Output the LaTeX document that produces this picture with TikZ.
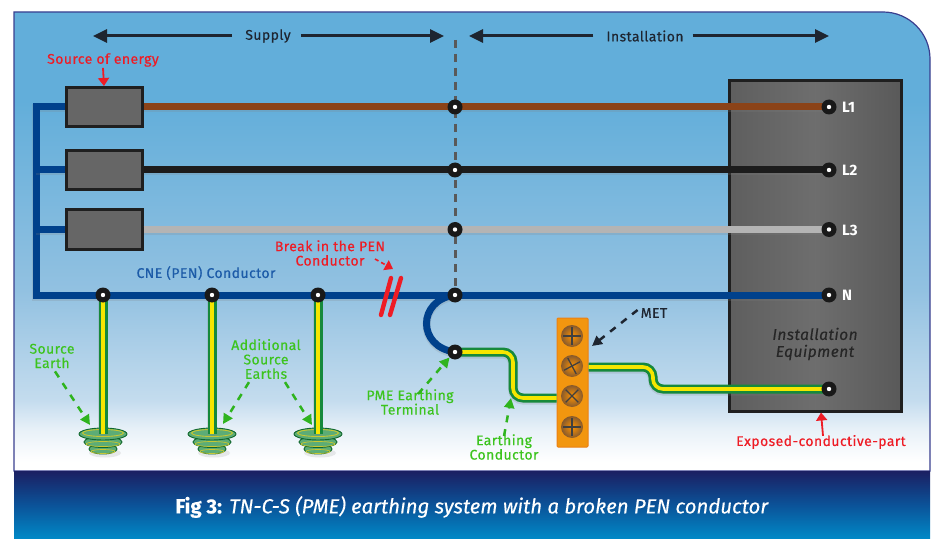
\documentclass[tikz,border=0pt]{standalone}
\usepackage{fontspec}
\setmainfont{Fira Sans}
\newfontfamily\lblfont[FakeBold=0.35,LetterSpace=3]{Fira Sans}
\newfontfamily\capfont[FakeBold=0.25]{Fira Sans}
\usetikzlibrary{arrows.meta,shapes.geometric,calc}
\definecolor{pA}{HTML}{62AEDA}\definecolor{pB}{HTML}{92C1E1}\definecolor{pC}{HTML}{C4DCEE}\definecolor{pD}{HTML}{E8F1F8}
\definecolor{wblue}{HTML}{00418C}\definecolor{wbrown}{HTML}{8B4318}\definecolor{wblack}{HTML}{1C1C1C}\definecolor{wgrey}{HTML}{B4B4B4}
\definecolor{egreen}{HTML}{16893C}\definecolor{eyellow}{HTML}{F6E600}\definecolor{lgreen}{HTML}{3CC41E}\definecolor{lred}{HTML}{EE1C25}
\definecolor{ink}{HTML}{1E2530}\definecolor{lblue}{HTML}{1C5BA8}\definecolor{frame}{HTML}{3A3F8F}\definecolor{orangeb}{HTML}{F2960F}
\definecolor{capA}{HTML}{1B1F62}\definecolor{capB}{HTML}{0B5298}\definecolor{capC}{HTML}{0088C6}
\definecolor{gdash}{HTML}{2FB41E}\definecolor{ering}{HTML}{C8C832}
\pgfdeclareverticalshading{panelgrad}{100bp}{color(0bp)=(white); color(26bp)=(white); color(29.5bp)=(pD); color(32.7bp)=(pC); color(44.7bp)=(pB); color(65.4bp)=(pA); color(100bp)=(pA)}
\pgfdeclarelayer{wires}\pgfdeclarelayer{dots}\pgfsetlayers{main,wires,dots}
\tikzset{
 x=1pt,y=-1pt,
 lbl/.style={inner sep=0pt,align=center,font=\lblfont\fontsize{14}{14.4}\selectfont},
 greenlbl/.style={lbl,text=lgreen},
 redlbl/.style={lbl,text=lred},
 darklbl/.style={lbl,text=ink},
 whitelbl/.style={lbl,text=white,font=\fontsize{15}{15}\selectfont\bfseries},
 srcbox/.style={draw=black!88,line width=3pt,fill=black!60,minimum width=76pt,minimum height=39pt,inner sep=0pt},
 joint/.style={circle,fill=black!90,minimum size=15pt,inner sep=0pt,path picture={\fill[white] (path picture bounding box.center) circle (2.2pt);}},
 shadowed/.style={preaction={draw=black!50,opacity=.2,line width=#1,transform canvas={yshift=-1.5pt}}},
 wire/.style={line width=7pt,shadowed=8pt},
 pen/.style={wire,draw=wblue},
 earthwire/.style={line width=3.6pt,draw=eyellow,preaction={draw=black!50,opacity=.2,line width=10pt,transform canvas={yshift=-1.5pt}},preaction={draw=egreen,line width=9pt}},
 bendy/.style={rounded corners=10pt},
 bigarrow/.style={draw=ink,line width=3pt,-{Triangle[length=14pt,width=13pt]}},
 redarrow/.style={draw=lred,line width=1.8pt,-{Triangle[length=8pt,width=11pt]}},
 dasharrow/.style={line width=2.5pt,dash pattern=on 7pt off 7pt,-{Triangle[length=10pt,width=10pt]}},
 greendash/.style={dasharrow,draw=gdash},
 earthdisc/.style={ellipse,draw=egreen!75!black,line width=.9pt,fill=egreen!70,inner sep=0pt},
 screw/.style={circle,minimum size=22pt,inner sep=0pt,inner color=orange!85!yellow,outer color=brown!70!black},
}
\begin{document}
\begin{tikzpicture}
\useasboundingbox (0,0) rectangle (941,553);
\fill[white] (0,0) rectangle (941,553);
% panel and caption band
\path[shading=panelgrad,draw=frame,line width=1.2pt] (14,471) -- (14,12) [rounded corners=47pt] -- (930,12) [sharp corners] -- (930,471) -- cycle;
\shade[top color=capA,bottom color=capC,middle color=capB] (14,471) rectangle (930,538);
\node[font=\capfont\fontsize{20.4}{22}\selectfont,text=white,inner sep=0pt] (cap) at (472,507) {\textbf{Fig 3:} \textit{TN-C-S (PME) earthing system with a broken PEN conductor}};
% boxes
\node[srcbox] (s1) at (104,107) {};
\node[srcbox] (s2) at (104,170) {};
\node[srcbox] (s3) at (104,229.5) {};
\node[draw=black!88,line width=3pt,left color=black!63,right color=black!65,middle color=black!57,minimum width=172pt,minimum height=330pt,inner sep=0pt] (eq) at (815,246) {};
% earth electrodes
\foreach \n/\x in {a/103,b/212,c/318}{
 \fill[black!40,opacity=.2] (\x+2,453) ellipse (16 and 4.5);
 \node[earthdisc,minimum width=28pt,minimum height=10pt] (\n3) at (\x,449) {};
 \draw[ering,line width=.7pt] (\x,451.5) ellipse (12 and 2);
 \node[earthdisc,minimum width=38pt,minimum height=11pt] (\n2) at (\x,442) {};
 \draw[ering,line width=.7pt] (\x,444) ellipse (17 and 2.5);
 \node[earthdisc,minimum width=48pt,minimum height=12pt] (\n1) at (\x,434) {};
 \draw[ering,line width=.9pt] (\x,433) ellipse (20.5 and 3.5);
}
% MET bar
\node[draw=orange!70!brown,line width=1pt,fill=orangeb,rounded corners=1pt,minimum width=31pt,minimum height=129pt,inner sep=0pt] (met) at (572.5,382.5) {};
\foreach \n/\y/\a in {m1/336/0,m2/366/28,m3/396/45,m4/427/0}{
 \node[screw] (\n) at (572,\y) {};
 \begin{scope}[shift={(572,\y)},rotate=\a]
  \draw[black!75,line width=1.3pt] (-9,0) -- (9,0) (0,-9) -- (0,9);
 \end{scope}
}
% joints
\begin{pgfonlayer}{dots}
\node[joint] (ja) at (103,295) {};
\node[joint] (jb) at (212,295) {};
\node[joint] (jc) at (318,295) {};
\node[joint] (d1) at (455,107) {};
\node[joint] (d2) at (455,170) {};
\node[joint] (d3) at (455,229.5) {};
\node[joint] (d4) at (455,295) {};
\node[joint] (d5) at (455,352) {};
\node[joint] (t1) at (829,107) {};
\node[joint] (t2) at (829,170) {};
\node[joint] (t3) at (829,229.5) {};
\node[joint] (t4) at (829,295) {};
\node[joint] (t5) at (829,389) {};
\end{pgfonlayer}
\coordinate (cnr) at (36,295);
\coordinate (top) at (36,107);
\coordinate (dtop) at (455,40);
\coordinate (e1) at (513,352);
\coordinate (e2) at (513,398);
\coordinate (f1) at (653,367);
\coordinate (f2) at (653,389);
% wires
\begin{pgfonlayer}{wires}
\draw[draw=black!65,line width=3pt,dash pattern=on 8pt off 6pt] (dtop) -- (d4.center);
\draw[wire,draw=wbrown] (s1.east) -- (d1.center) -- (t1.center);
\draw[wire,draw=wblack] (s2.east) -- (d2.center) -- (t2.center);
\draw[wire,draw=wgrey] (s3.east) -- (d3.center) -- (t3.center);
\draw[pen] (s1.west) -- (top) -- (cnr) -- (t4.center);
\draw[pen] (top|-s2.west) -- (s2.west);
\draw[pen] (top|-s3.west) -- (s3.west);
\draw[pen] (d4.center) .. controls (417,300) and (417,347) .. (d5.center);
\draw[earthwire] (ja.center) -- (a1.center);
\draw[earthwire] (jb.center) -- (b1.center);
\draw[earthwire] (jc.center) -- (c1.center);
\draw[earthwire,bendy] (d5.center) -- (e1) -- (e2) -- (met.west|-e2);
\draw[earthwire,bendy] (met.east|-f1) -- (f1) -- (f2) -- (t5.center);
\draw[draw=lred,line width=4.4pt,line cap=round] (381,315) -- (391,278);
\draw[draw=lred,line width=4.4pt,line cap=round] (390,315) -- (401,278);
\end{pgfonlayer}
% labels
\node[darklbl] (sup) at (268,36) {Supply};
\node[darklbl] (ins) at (645,36) {Installation};
\coordinate (supL) at (93,36);\coordinate (supR) at (444,36);\coordinate (insL) at (469,36);\coordinate (insR) at (829,36);
\draw[bigarrow] ([xshift=-13pt]sup.west) -- (supL);
\draw[bigarrow] ([xshift=10pt]sup.east) -- (supR);
\draw[bigarrow] ([xshift=-13pt]ins.west) -- (insL);
\draw[bigarrow] ([xshift=9pt]ins.east) -- (insR);
\node[redlbl] (soe) at (103,60) {Source of energy};
\draw[redarrow] ([yshift=-1pt]soe.south) -- (s1.north);
\node[redlbl] (brk) at (330,253) {Break in the PEN\\Conductor};
\coordinate (brktip) at (393,269);
\draw[redarrow,line width=1.6pt,dash pattern=on 4pt off 3pt] (375,259) -- (brktip);
\node[lbl,text=lblue] (cne) at (206,273) {CNE (PEN) Conductor};
\node[greenlbl] (se) at (52,356) {Source\\Earth};
\coordinate (setip) at (90,425);
\draw[greendash] ([xshift=3pt,yshift=-3pt]se.south) -- (setip);
\node[greenlbl] (ase) at (266,359) {Additional\\Source\\Earths};
\coordinate (asetipA) at (223,424);\coordinate (asetipB) at (312,425);
\draw[greendash] ([xshift=-17pt,yshift=-3pt]ase.south) -- (asetipA);
\draw[greendash] ([xshift=19pt,yshift=-3pt]ase.south) -- (asetipB);
\node[greenlbl] (pme) at (410,402) {PME Earthing\\Terminal};
\draw[greendash] ([xshift=8pt,yshift=-5pt]pme.north) -- (d5.south west);
\node[greenlbl] (ec) at (504,447) {Earthing\\Conductor};
\coordinate (ectip) at (511,398);
\draw[greendash] ([yshift=-2pt]ec.north) -- (ectip);
\node[darklbl] (metl) at (654,313) {MET};
\coordinate (mettip) at (592,346);
\draw[dasharrow,draw=ink] ([xshift=-3pt,yshift=3pt]metl.west) -- (mettip);
\node[redlbl] (ecp) at (821,442) {Exposed-conductive-part};
\draw[redarrow] ([xshift=2pt,yshift=-1pt]ecp.north) -- (eq.south-|ecp.north);
\node[lbl,text=black!85,font=\lblfont\fontsize{15.5}{17}\selectfont\itshape] (ieq) at (815,344) {Installation\\Equipment};
\node[whitelbl,anchor=west] (l1) at (842,107) {L1};
\node[whitelbl,anchor=west] (l2) at (842,170) {L2};
\node[whitelbl,anchor=west] (l3) at (842,230) {L3};
\node[whitelbl,anchor=west] (ln) at (842,295) {N};
\end{tikzpicture}
\end{document}
